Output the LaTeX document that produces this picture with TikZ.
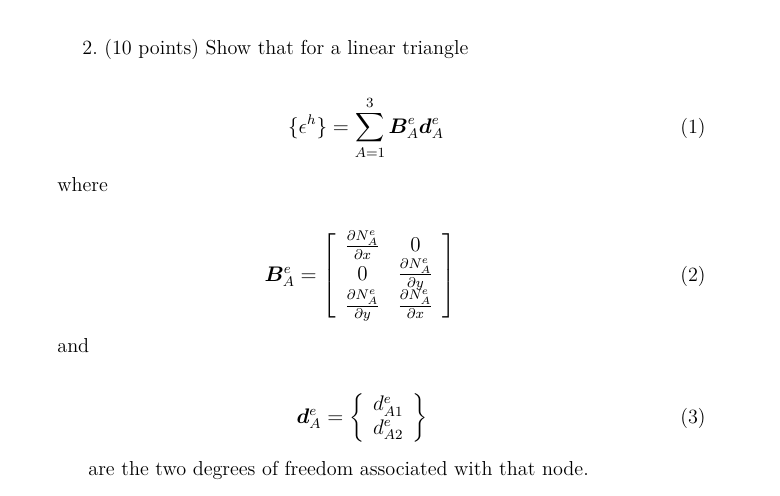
\documentclass[tikz,border=0pt]{standalone}
\usepackage{amsmath,amssymb,bm}
\begin{document}
\begin{tikzpicture}[x=0.02cm,y=-0.02cm,txt/.style={anchor=west,inner sep=0pt,font=\fontsize{11.5}{13.5}\selectfont},eq/.style={inner sep=0pt,font=\fontsize{11.5}{13.5}\selectfont}]
\useasboundingbox (0,0) rectangle (780,496);
\node[txt] (t1) at (82,49) {2.\ (10 points) Show that for a linear triangle};
\node[eq] (e1) at (366,128) {$\displaystyle \{\epsilon^h\} = \sum_{A=1}^{3} \bm{B}^e_A \bm{d}^e_A$};
\node[txt] (n1) at (680,128) {(1)};
\node[txt] (w) at (57,185) {where};
\node[eq] (e2) at (360,276) {$\bm{B}^e_A = \left[\begin{array}{cc}
\frac{\partial N^e_A}{\partial x} & 0\\
0 & \frac{\partial N^e_A}{\partial y}\\
\frac{\partial N^e_A}{\partial y} & \frac{\partial N^e_A}{\partial x}
\end{array}\right]$};
\node[txt] (n2) at (680,276) {(2)};
\node[txt] (a) at (57,346) {and};
\node[eq] (e3) at (362,418) {$\bm{d}^e_A = \left\{\begin{array}{c} d^e_{A1}\\ d^e_{A2}\end{array}\right\}$};
\node[txt] (n3) at (680,418) {(3)};
\node[txt] (t2) at (88,470) {are the two degrees of freedom associated with that node.};
\end{tikzpicture}
\end{document}
